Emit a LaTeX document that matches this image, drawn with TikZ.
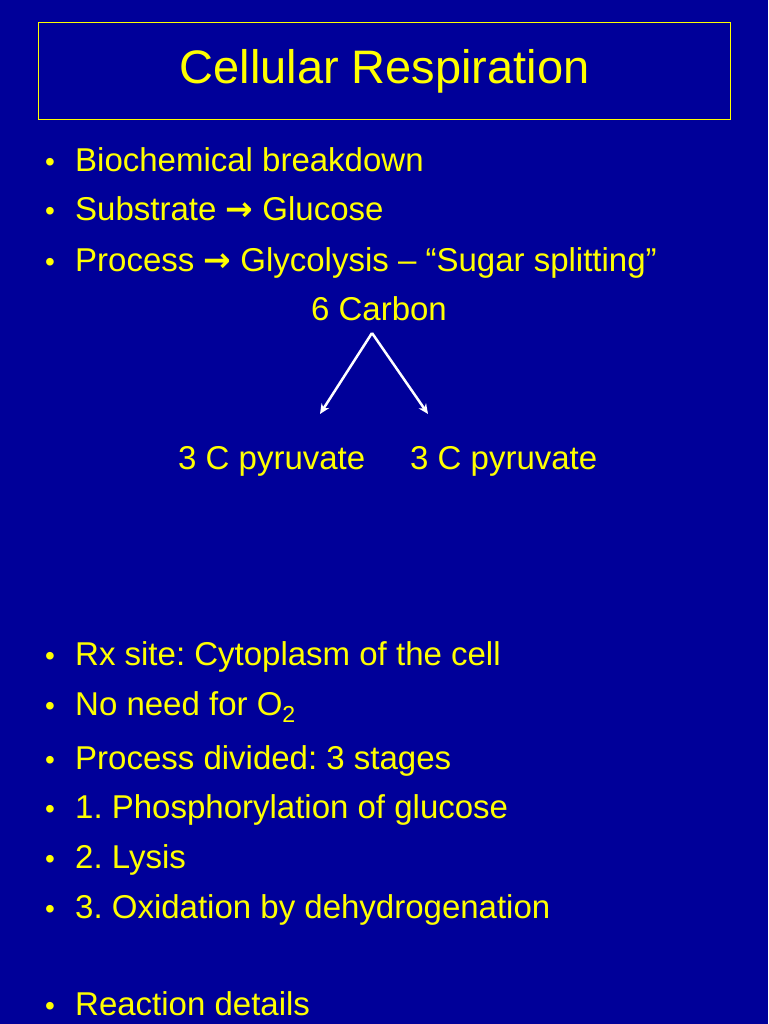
\documentclass[tikz,border=0pt]{standalone}
\usepackage{fontspec}
\usetikzlibrary{arrows.meta}
\setmainfont{Liberation Sans}
\newfontfamily\djv{DejaVu Sans}
\definecolor{bg}{HTML}{000099}
\definecolor{yl}{HTML}{FFFF00}
\newcommand{\ar}{{\djv\bfseries →}}
\frenchspacing
\begin{document}
\begin{tikzpicture}[x=1pt,y=-1pt,
  txt/.style={text=yl,font=\fontsize{33}{36}\selectfont,anchor=base west,inner sep=0pt},
  bul/.style={text=yl,font=\fontsize{28}{30}\selectfont,anchor=base,inner sep=0pt}]
\fill[bg] (0,0) rectangle (768,1024);
\useasboundingbox (0,0) rectangle (768,1024);
\node[draw=yl,line width=1.2pt,minimum width=692pt,minimum height=97pt,anchor=north west,text=yl,font=\fontsize{47}{50}\selectfont] (title) at (38,22) {Cellular Respiration};
\foreach \y/\t [count=\i] in {172/Biochemical breakdown,221/Substrate \ar{} Glucose,271/Process \ar{} Glycolysis – “Sugar splitting”,665/Rx site: Cytoplasm of the cell,715/No need for O\textsubscript{2},769/Process divided: 3 stages,818/1. Phosphorylation of glucose,868/2. Lysis,918/3. Oxidation by dehydrogenation,1015/Reaction details}{
  \node[bul] (b\i) at (50,\y) {•};
  \node[txt] (t\i) at (75,\y) {\t};
}
\node[txt,anchor=base] (c6) at (379,320) {6 Carbon};
\node[txt] (p1) at (178,469) {3 C pyruvate};
\node[txt] (p2) at (410,469) {3 C pyruvate};
\coordinate (top) at (372,333);
\coordinate (l) at (320,414);
\coordinate (r) at (428,414);
\draw[white,line width=2.5pt,-{Stealth[length=10pt,width=9pt]}] (top) -- (l);
\draw[white,line width=2.5pt,-{Stealth[length=10pt,width=9pt]}] (top) -- (r);
\end{tikzpicture}
\end{document}
